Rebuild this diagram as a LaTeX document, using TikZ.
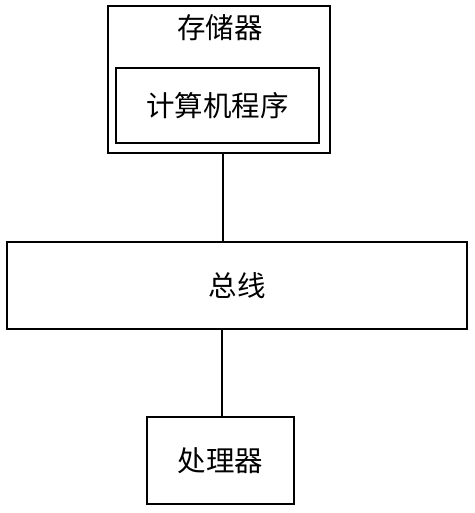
\documentclass[tikz,border=0pt]{standalone}
\usepackage{fontspec}
\usepackage{tikz}
\newfontfamily\cjk{Noto Sans CJK SC}

\begin{document}
\begin{tikzpicture}[x=1pt,y=1pt,line width=1.4pt,
    blok/.style={draw,rectangle,inner sep=0pt},
    txt/.style={font=\cjk\fontsize{28.5}{30}\selectfont}]
      \useasboundingbox (0,0) rectangle (474,-513);
      \node[blok,minimum width=222,minimum height=147] (mem) at (219,-79.5) {};
      \node[txt] (memlabel) at (220,-28) {存储器};
      \node[blok,txt,minimum width=203,minimum height=75] (prog) at (217.5,-105.5) {计算机程序};
      \node[blok,txt,minimum width=460,minimum height=87] (bus) at (237,-285.5) {总线};
      \node[blok,txt,minimum width=147,minimum height=87] (proc) at (220.5,-460.5) {处理器};
      \draw (mem.south -| 223,0) -- (bus.north -| 223,0);
      \draw (bus.south -| 222,0) -- (proc.north -| 222,0);
\end{tikzpicture}
\end{document}
